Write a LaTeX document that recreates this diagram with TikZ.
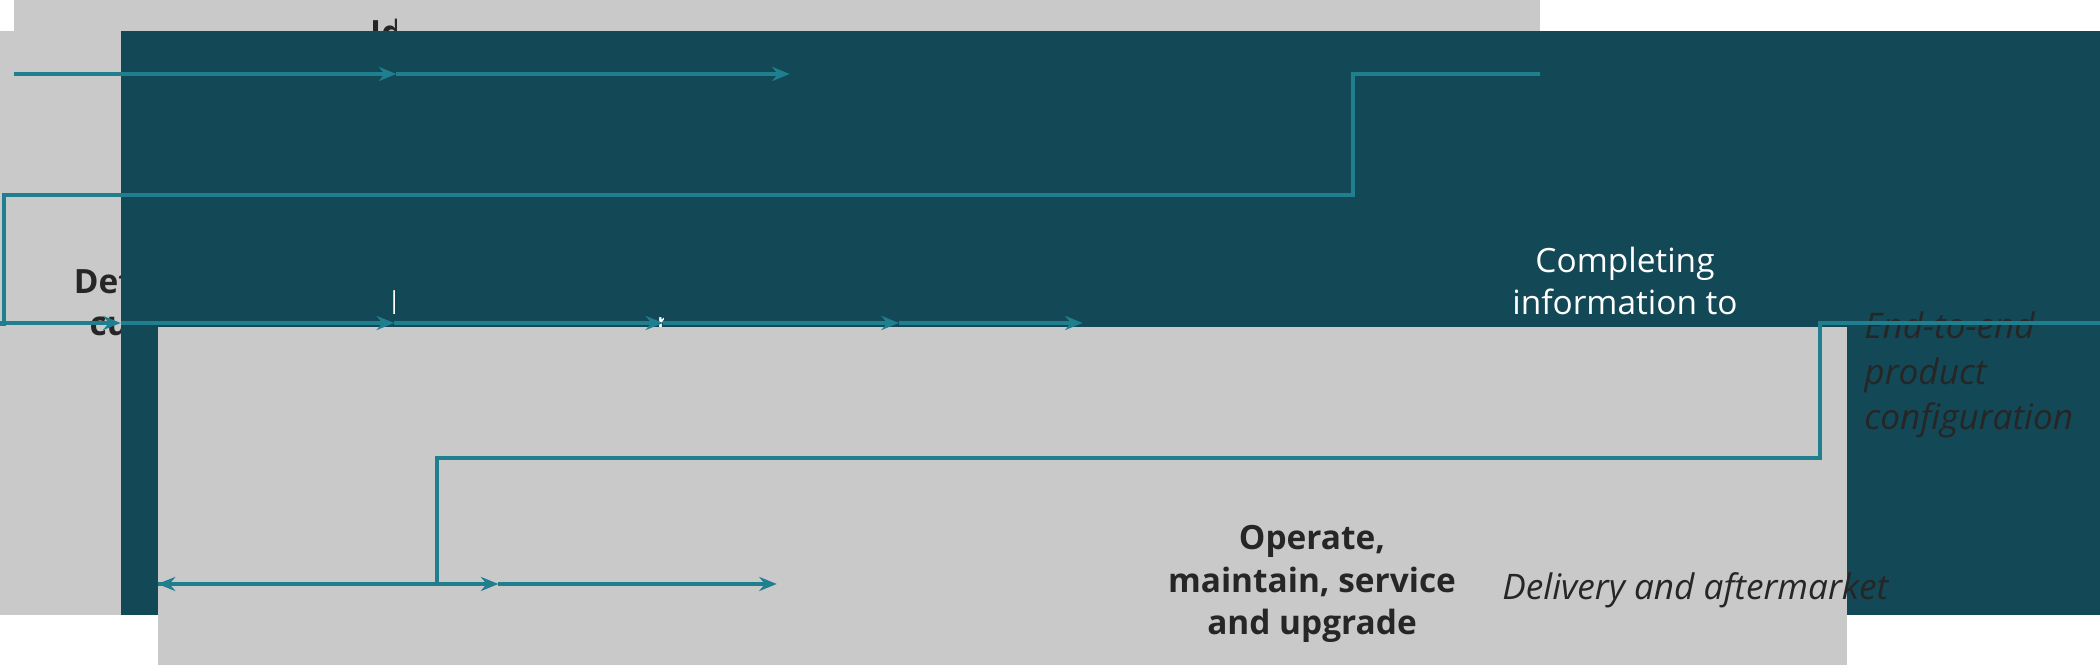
\documentclass[tikz,border=0pt]{standalone}
\usepackage{fontspec}
\setmainfont{Open Sans}
\usetikzlibrary{positioning,arrows.meta}
\definecolor{boxgray}{HTML}{C9C9C9}
\definecolor{boxteal}{HTML}{134857}
\definecolor{linkteal}{HTML}{1F7F8F}
\tikzset{
  stage/.style={inner sep=2pt, align=center, font=\fontsize{9.5}{12}\selectfont},
  grey/.style={stage, fill=boxgray, text=black!85, font=\fontsize{9.5}{12}\selectfont\bfseries},
  dark/.style={stage, fill=boxteal, text=white},
  link/.style={draw=linkteal, line width=1.1pt, -{Stealth[length=5pt,width=4pt]}},
  phase/.style={anchor=west, align=left, font=\fontsize{10}{13}\selectfont\itshape, text=black!85}
}
\begin{document}
\begin{tikzpicture}[x=0.01cm,y=-0.01cm]
\useasboundingbox (0,0) rectangle (2100,665);

% row 1
\node[grey, minimum width=254, minimum height=141] (n1) at (461,74) {Identifying\\unfulfilled\\needs};
\node[grey, minimum width=253, minimum height=141] (n2) at (842,74) {Designing\\solution(s)};
\node[grey, minimum width=213, minimum height=141] (n3) at (1165,74) {Verifying\\solution(s)};
\node[phase] (p1) at (1490,74) {Product development};

% row 2
\node[grey, minimum width=254, minimum height=166] (m1) at (169,323) {Detecting a\\customer\\need};
\node[dark, minimum width=192, minimum height=166] (m2) at (459,323) {Detailing\\the need};
\node[dark, minimum width=190, minimum height=166] (m3) at (729,323) {Defining\\matching\\solution};
\node[dark, minimum width=190, minimum height=166] (m4) at (998,323) {Deciding to\\purchase};
\node[dark, minimum width=218, minimum height=166] (m5) at (1283,323) {Detailing the\\solution};
\node[dark, minimum width=308, minimum height=166] (m6) at (1625,323) {Completing\\information to\\produce and\\deliver};
\node[phase] (p2) at (1852,375) {End-to-end\\product\\configuration};

% row 3
\node[grey, minimum width=254, minimum height=146] (k1) at (605,584) {Produce and\\deliver};
\node[grey, minimum width=253, minimum height=146] (k2) at (944,584) {Put in\\operation};
\node[grey, minimum width=304, minimum height=146] (k3) at (1312,584) {Operate,\\maintain, service\\and upgrade};
\node[phase] (p3) at (1490,590) {Delivery and aftermarket};

\coordinate (c1) at (1353,74);
\coordinate (c2) at (1353,195);
\coordinate (c3) at (4,195);
\coordinate (c4) at (4,324);
\coordinate (d1) at (1820,323);
\coordinate (d2) at (1820,458);
\coordinate (d3) at (437,458);
\coordinate (d4) at (437,584);

\draw[link] (n1) -- (n2);
\draw[link] (n2) -- (n3);
\draw[link] (n3.east) -- (c1) -- (c2) -- (c3) -- (c4) -- (m1.west);
\foreach \a/\b in {m1/m2,m2/m3,m3/m4,m4/m5,m5/m6}{\draw[link] (\a) -- (\b);}
\draw[link] (m6.east) -- (d1) -- (d2) -- (d3) -- (d4) -- (k1.west);
\draw[link] (k1) -- (k2);
\draw[link] (k2) -- (k3);
\end{tikzpicture}
\end{document}
